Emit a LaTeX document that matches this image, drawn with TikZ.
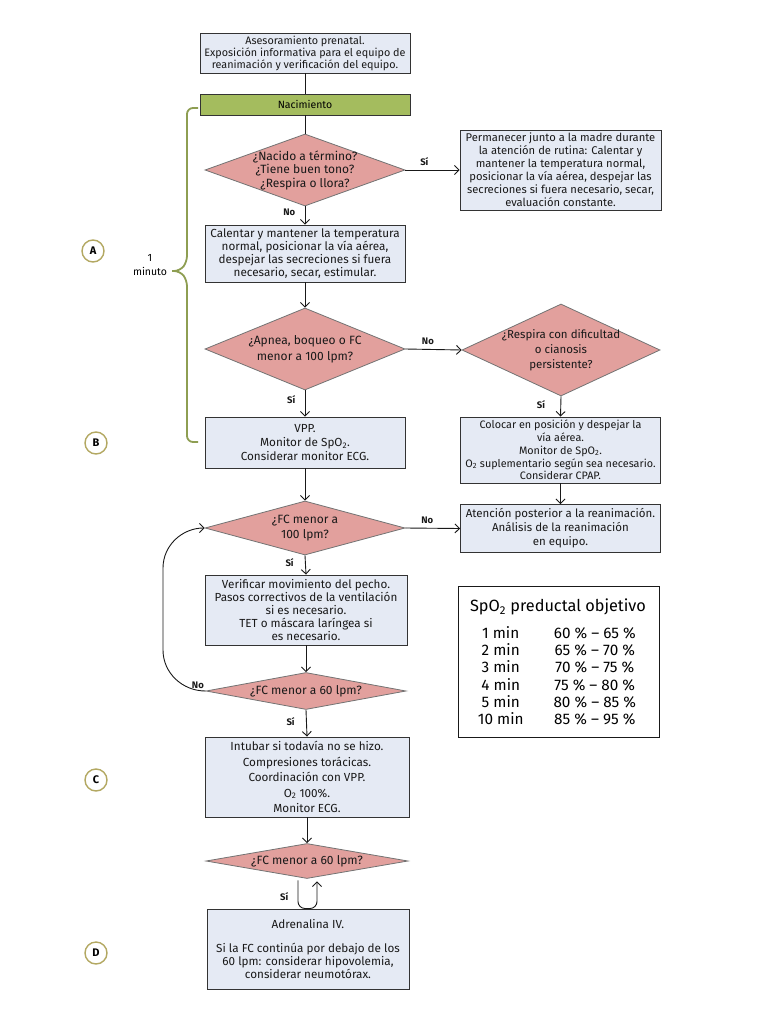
\documentclass[tikz,border=0pt]{standalone}
\usepackage{fontspec}
\setmainfont{Fira Sans}
\usetikzlibrary{arrows.meta,shapes.geometric}
\definecolor{boxblue}{HTML}{E5EAF4}
\definecolor{diapink}{HTML}{E2A09D}
\definecolor{nacgreen}{HTML}{A4BC5E}
\definecolor{bracegreen}{HTML}{8E9E52}
\definecolor{circol}{HTML}{B3A862}
\definecolor{edgecol}{HTML}{333333}
\tikzset{
  box/.style={draw=edgecol, fill=boxblue, line width=0.9pt, align=center,
    inner sep=2pt, font=\fontsize{11.7}{13}\selectfont, text=black!90},
  nac/.style={draw=edgecol, fill=nacgreen, line width=0.9pt, align=center,
    font=\fontsize{10.5}{12}\selectfont},
  dia/.style={diamond, draw=black!55, fill=diapink, line width=0.8pt, inner sep=0pt},
  dtxt/.style={align=center, font=\fontsize{12}{14.5}\selectfont, text=black!90},
  arr/.style={-{Straight Barb[length=4.5pt,width=9pt]}, line width=0.9pt, draw=black!90},
  ln/.style={line width=0.9pt, draw=black!90},
  lab/.style={font=\bfseries\fontsize{9.5}{11}\selectfont, text=black!90},
  circ/.style={circle, draw=circol, line width=1.4pt, minimum size=22pt, inner sep=0pt,
    font=\bfseries\fontsize{11}{12}\selectfont},
  tbl/.style={draw=black!90, line width=1.6pt, fill=white},
}
\begin{document}
\begin{tikzpicture}[x=1pt,y=-1pt]
\useasboundingbox (0,0) rectangle (768,1024);
\fill[white] (0,0) rectangle (768,1024);

% top boxes
\node[box, minimum width=210pt, minimum height=40pt, font=\fontsize{10.8}{12}\selectfont] (top) at (305,53)
  {Asesoramiento prenatal.\\Exposición informativa para el equipo de\\reanimación y verificación del equipo.};
\node[nac, minimum width=210pt, minimum height=21pt] (nac) at (305,104.5) {Nacimiento};

% diamond 1
\node[dia, minimum width=200pt, minimum height=72pt,
  label={[dtxt, font=\fontsize{12}{13.5}\selectfont]center:{¿Nacido a término?\\¿Tiene buen tono?\\¿Respira o llora?}}] (d1) at (305,170) {};
\node[box, minimum width=201pt, minimum height=80pt, font=\fontsize{11.2}{13}\selectfont] (r1) at (560.5,170)
  {Permanecer junto a la madre durante\\la atención de rutina: Calentar y\\mantener la temperatura normal,\\posicionar la vía aérea, despejar las\\secreciones si fuera necesario, secar,\\evaluación constante.};

\node[box, minimum width=200pt, minimum height=57pt] (b2) at (305,253.5)
  {Calentar y mantener la temperatura\\normal, posicionar la vía aérea,\\despejar las secreciones si fuera\\necesario, secar, estimular.};

% diamond 2 and 3
\node[dia, minimum width=200pt, minimum height=82pt,
  label={[dtxt, font=\fontsize{12}{16}\selectfont]center:{¿Apnea, boqueo o FC\\menor a 100 lpm?}}] (d2) at (305,349) {};
\node[dia, minimum width=198pt, minimum height=92pt,
  label={[dtxt, font=\fontsize{11.5}{15}\selectfont]center:{¿Respira con dificultad\\o cianosis\\persistente?}}] (d3) at (561,350) {};

\node[box, minimum width=200pt, minimum height=51pt, font=\fontsize{11.7}{14}\selectfont] (bB) at (305,442.5)
  {VPP.\\Monitor de SpO\textsubscript{2}.\\Considerar monitor ECG.};
\node[box, minimum width=200pt, minimum height=66pt, font=\fontsize{10.8}{12.8}\selectfont] (b4) at (560.5,450)
  {Colocar en posición y despejar la\\vía aérea.\\Monitor de SpO\textsubscript{2}.\\O\textsubscript{2} suplementario según sea necesario.\\Considerar CPAP.};
\node[box, minimum width=200pt, minimum height=48pt, font=\fontsize{11.5}{14}\selectfont] (b5) at (560.5,528.5)
  {Atención posterior a la reanimación.\\Análisis de la reanimación\\en equipo.};

% diamond 4
\node[dia, minimum width=200pt, minimum height=54pt,
  label={[dtxt]center:{¿FC menor a\\100 lpm?}}] (d4) at (305,528) {};
\node[box, minimum width=202pt, minimum height=70pt] (b6) at (306,610)
  {Verificar movimiento del pecho.\\Pasos correctivos de la ventilación\\si es necesario.\\TET o máscara laríngea si\\es necesario.};

% diamond 5
\node[dia, minimum width=200pt, minimum height=37pt,
  label={[dtxt]center:{¿FC menor a 60 lpm?}}] (d5) at (306,691) {};
\node[box, minimum width=204pt, minimum height=80pt, font=\fontsize{11.7}{15.5}\selectfont] (bC) at (307,777)
  {Intubar si todavía no se hizo.\\Compresiones torácicas.\\Coordinación con VPP.\\O\textsubscript{2} 100\%.\\Monitor ECG.};

% diamond 6
\node[dia, minimum width=202pt, minimum height=35pt,
  label={[dtxt]center:{¿FC menor a 60 lpm?}}] (d6) at (307,861) {};
\node[box, minimum width=202pt, minimum height=80pt] (bD) at (308,949)
  {Adrenalina IV.\\[11pt]Si la FC continúa por debajo de los\\60 lpm: considerar hipovolemia,\\considerar neumotórax.};

% connectors
\draw[ln] (top) -- (nac);
\draw[ln] (nac) -- (d1);
\draw[arr] (d1.east) -- node[lab, above, pos=0.35, yshift=1pt] {Sí} (r1.west);
\draw[arr] (d1.south) -- node[lab, left, pos=0.35, xshift=-6pt] {No} (b2.north);
\draw[arr] (b2.south) -- (d2.north);
\draw[arr] (d2.east) -- node[lab, above, pos=0.4, yshift=1pt] {No} (d3.west);
\draw[arr] (d3.south) -- node[lab, left, pos=0.4, xshift=-12pt] {Sí} (b4.north);
\draw[arr] (b4.south) -- (b5.north);
\draw[arr] (d2.south) -- node[lab, left, pos=0.35, xshift=-6pt] {Sí} (bB.north);
\draw[arr] (bB.south) -- (d4.north);
\draw[arr] (d4.east) -- node[lab, above, pos=0.4, yshift=1pt] {No} (b5.west);
\draw[arr] (d4.south) -- node[lab, left, pos=0.4, xshift=-8pt] {Sí} (b6.north);
\draw[arr] (b6.south) -- (d5.north);
\draw[arr] (d5.south) -- node[lab, left, pos=0.45, xshift=-8pt] {Sí} (bC.north);
\draw[arr] (bC.south) -- (d6.north);

\coordinate (lp1) at (163,650);
\coordinate (lp2) at (163,568);
\draw[arr] (d5.west) node[lab, above left, xshift=2pt, yshift=-1pt] {No}
  to[out=180,in=-90] (lp1) -- (lp2) to[out=90,in=180] (d4.west);

\coordinate (u1) at (298,908.5);
\coordinate (u2) at (317,908.5);
\draw[arr, rounded corners=7pt] ([xshift=-9pt,yshift=-1.5pt]d6.south)
  node[lab, below left, xshift=-6pt, yshift=-8pt] {Sí} -- (u1) -- (u2) -- ([xshift=10pt,yshift=-2.5pt]d6.south);

% brace
\draw[bracegreen, line width=1.8pt, rounded corners=6pt]
  (198,108) -- (187,108) -- (187,262) -- (180,271) -- (172,271);
\draw[bracegreen, line width=1.8pt, rounded corners=6pt]
  (198,442) -- (187,442) -- (187,280) -- (180,271) -- (172,271);
\node[align=center, font=\fontsize{10.5}{14}\selectfont] (minuto) at (150,265) {1\\minuto};

% circles
\node[circ] (cA) at (93,251) {A};
\node[circ] (cB) at (96,443) {B};
\node[circ] (cC) at (96,780) {C};
\node[circ] (cD) at (96,953) {D};

% SpO2 table
\node[tbl, minimum width=201pt, minimum height=151pt] (tb) at (559,662) {};
\node[font=\fontsize{16.3}{18}\selectfont] (tbt) at (558,607) {SpO\textsubscript{2} preductal objetivo};
\node[font=\fontsize{15.3}{17.3}\selectfont, inner sep=0pt] (tbr) at (557,678)
  {\begin{tabular}{@{}c@{\hspace{30pt}}c@{}}
   1 min & 60 \% – 65 \%\\
   2 min & 65 \% – 70 \%\\
   3 min & 70 \% – 75 \%\\
   4 min & 75 \% – 80 \%\\
   5 min & 80 \% – 85 \%\\
   10 min & 85 \% – 95 \%
   \end{tabular}};
\end{tikzpicture}
\end{document}
